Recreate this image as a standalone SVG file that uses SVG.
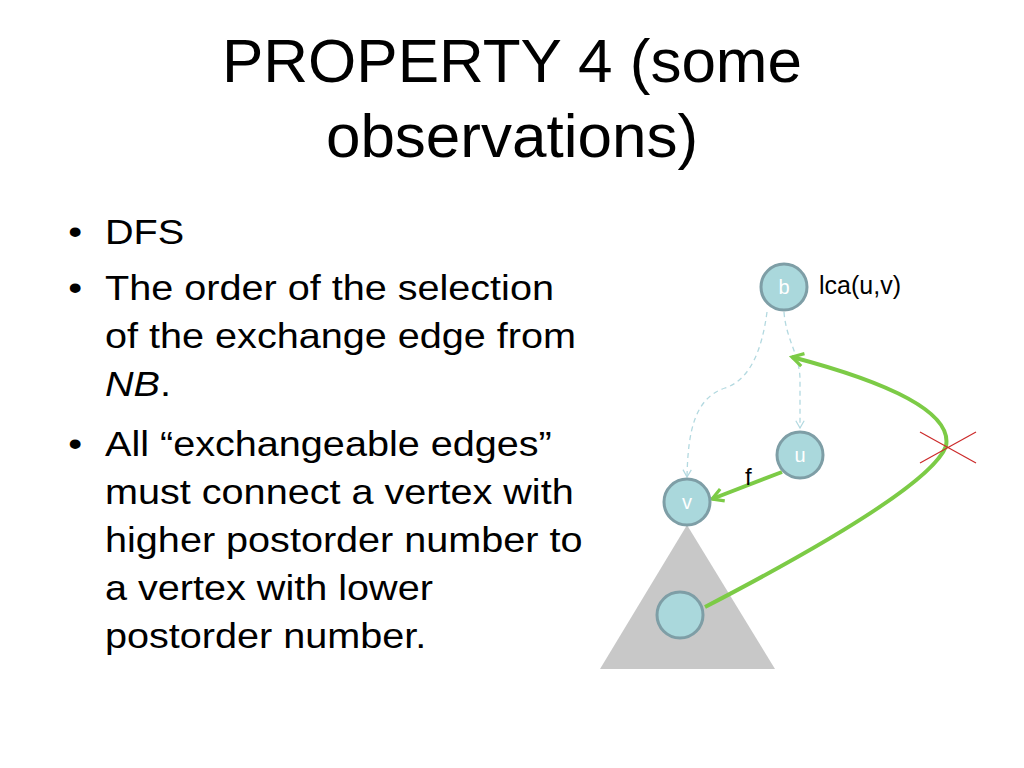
<svg xmlns="http://www.w3.org/2000/svg" width="1024" height="768" viewBox="0 0 1024 768">
<style>
text{font-family:"Liberation Sans",Arial,sans-serif;fill:#000}
.t{font-size:62px;text-anchor:middle}
.b{font-size:36px}
.n{fill:#aad8dc;stroke:#7e9ea6;stroke-width:3}
.nl{font-size:20px;fill:#fff;text-anchor:middle}
.d{fill:none;stroke:#b3d9e0;stroke-width:1.3;stroke-dasharray:5,4}
.g{fill:none;stroke:#7ccb46;stroke-width:4}
</style>
<defs>
<marker id="ga" viewBox="0 0 10 10" refX="8" refY="5" markerWidth="4" markerHeight="4" orient="auto"><path d="M1,1 L8,5 L1,9" fill="none" stroke="#7ccb46" stroke-width="2"/></marker>
<marker id="da" viewBox="0 0 10 10" refX="8" refY="5" markerWidth="8" markerHeight="8" orient="auto"><path d="M1,1 L8,5 L1,9" fill="none" stroke="#b3d9e0" stroke-width="1.2"/></marker>
</defs>
<rect width="1024" height="768" fill="#fff"/>
<text class="t" x="512" y="82">PROPERTY 4 (some</text>
<text class="t" x="512" y="157">observations)</text>
<g class="b" transform="scale(1.1,1)">
<text x="62" y="244">•</text><text x="95.5" y="244">DFS</text>
<text x="62" y="300">•</text><text x="95.5" y="300">The order of the selection</text>
<text x="95.5" y="348">of the exchange edge from</text>
<text x="95.5" y="396"><tspan font-style="italic">NB</tspan>.</text>
<text x="62" y="456">•</text><text x="95.5" y="456">All “exchangeable edges”</text>
<text x="95.5" y="504">must connect a vertex with</text>
<text x="95.5" y="552">higher postorder number to</text>
<text x="95.5" y="600">a vertex with lower</text>
<text x="95.5" y="648">postorder number.</text>
</g>
<polygon points="687,525 600,669 775,669" fill="#c8c8c8"/>
<g id="connectors">
<path class="d" d="M767,312 C762,350 750,380 725,388 C695,398 688,430 687,477" marker-end="url(#da)"/>
<path class="d" d="M784,312 C786,340 800,355 800,380 L800,428" marker-end="url(#da)"/>
<path class="g" d="M782,472 L712,499" marker-end="url(#ga)"/>
<path class="g" d="M705,607 Q930,490 946,446 Q955,400 792,357" marker-end="url(#ga)"/>
<text x="745" y="485" font-size="24">f</text>
</g>
<g id="cross" stroke="#cc2a2a" stroke-width="1.2"><line x1="920" y1="432" x2="976" y2="463"/><line x1="920" y1="463" x2="976" y2="432"/></g>
<g id="b"><circle class="n" cx="784" cy="287" r="23"/><text class="nl" x="784" y="294">b</text></g>
<text x="819" y="294" font-size="25">lca(u,v)</text>
<g id="u"><circle class="n" cx="800" cy="455" r="23"/><text class="nl" x="800" y="462">u</text></g>
<g id="v"><circle class="n" cx="687" cy="502" r="23"/><text class="nl" x="687" y="509">v</text></g>
<g id="w"><circle class="n" cx="680" cy="615" r="23"/></g>
</svg>
